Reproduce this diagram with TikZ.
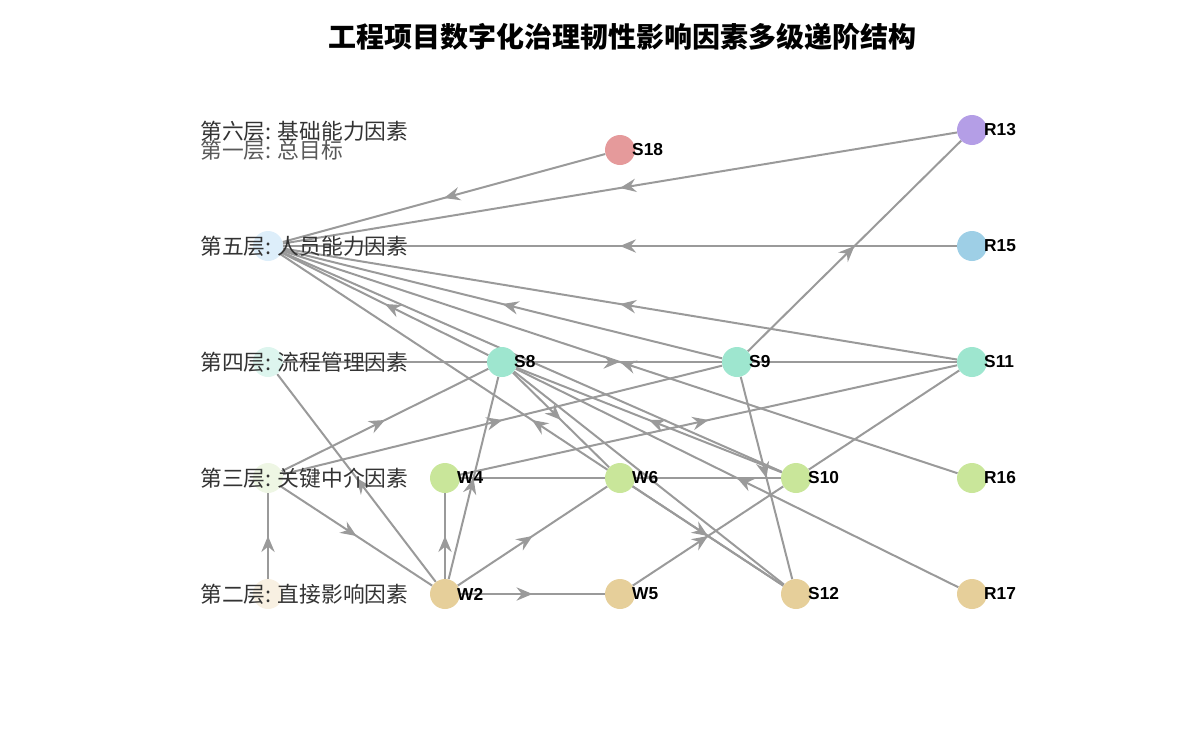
\documentclass[tikz,border=0pt]{standalone}
\usepackage{fontspec}
\setmainfont{Liberation Sans}
\newfontfamily\cjk{Noto Sans CJK SC}
\usetikzlibrary{decorations.markings,arrows.meta}
\definecolor{edgec}{HTML}{9A9A9A}
\definecolor{cL5}{HTML}{DDEEFA}
\definecolor{cL4}{HTML}{DDF5EE}
\definecolor{cL3}{HTML}{EEF6E4}
\definecolor{cL2}{HTML}{F8F0E2}
\definecolor{cred}{HTML}{E59A9B}
\definecolor{cpur}{HTML}{B49EE6}
\definecolor{cblu}{HTML}{9ECFE6}
\definecolor{cteal}{HTML}{9EE6CF}
\definecolor{cgrn}{HTML}{C9E69A}
\definecolor{ctan}{HTML}{E6CF9A}
\tikzset{
  nd/.style={circle,minimum size=22.5pt,inner sep=0pt},
  ed/.style={draw=edgec,line width=1.5pt,postaction={decorate},
    decoration={markings,mark=at position 0.5 with {\arrow{Stealth[length=12pt,width=10pt,inset=4pt]}}}},
  pl/.style={draw=edgec,line width=1.5pt},
  lab/.style={font=\bfseries\fontsize{13}{13}\selectfont,anchor=west,inner sep=0pt},
  lay/.style={font=\cjk\fontsize{16.3}{16.3}\selectfont,anchor=west,inner sep=0pt,text=black!80},
}
\begin{document}
\begin{tikzpicture}[x=0.75pt,y=-0.75pt]
\useasboundingbox (0,0) rectangle (1200,750);
\node[nd] (L5) at (268,246) {};
\node[nd] (L4) at (268,362) {};
\node[nd] (L3) at (268,478) {};
\node[nd] (L2) at (268,594) {};
\node[nd] (S18) at (620,150) {};
\node[nd] (R13) at (972,130) {};
\node[nd] (R15) at (972,246) {};
\node[nd] (S8) at (502,362) {};
\node[nd] (S9) at (737,362) {};
\node[nd] (S11) at (972,362) {};
\node[nd] (W4) at (445,478) {};
\node[nd] (W6) at (620,478) {};
\node[nd] (S10) at (796,478) {};
\node[nd] (R16) at (972,478) {};
\node[nd] (W2) at (445,594) {};
\node[nd] (W5) at (620,594) {};
\node[nd] (S12) at (796,594) {};
\node[nd] (R17) at (972,594) {};
% edges
\draw[ed] (S18) -- (L5);
\draw[ed] (R13) -- (L5);
\draw[ed] (R15) -- (L5);
\draw[ed] (S11) -- (L5);
\draw[ed] (S9) -- (L5);
\draw[ed] (R16) -- (L5);
\draw[ed] (S8) -- (L5);
\draw[ed] (S12) -- (L5);
\draw[pl] (L5) -- (S10);
\draw[pl] (L4) -- (S11);
\draw[ed] (S8) -- (S9);
\draw[ed] (S10) -- (S8);
\draw[ed] (R17) -- (S8);
\draw[ed] (S8) -- (W6);
\draw[pl] (S8) -- (S12);
\draw[ed] (S9) -- (S12);
\draw[ed] (S9) -- (R13);
\draw[ed] (L3) -- (S8);
\draw[ed] (L3) -- (S9);
\draw[ed] (W4) -- (S11);
\draw[pl] (S11) -- (S10);
\draw[ed] (W2) -- (L4);
\draw[ed] (L3) -- (W2);
\draw[ed] (L2) -- (L3);
\draw[ed] (W2) -- (W4);
\draw[ed] (W2) -- (S8);
\draw[ed] (W2) -- (W6);
\draw[ed] (W2) -- (W5);
\draw[ed] (W5) -- (S10);
\draw[pl] (W4) -- (S10);
\draw[ed] (W6) -- (S12);
% fill nodes on top
\foreach \n/\c in {L5/cL5,L4/cL4,L3/cL3,L2/cL2,S18/cred,R13/cpur,R15/cblu,S8/cteal,S9/cteal,S11/cteal,W4/cgrn,W6/cgrn,S10/cgrn,R16/cgrn,W2/ctan,W5/ctan,S12/ctan,R17/ctan}
  \fill[\c] (\n) circle (15);
\foreach \n in {S18,R13,R15,S8,S9,S11,W4,W6,S10,R16,W2,W5,S12,R17}
  \node[lab] at ([xshift=-2.5pt]\n.east) {\n};
% layer labels
\node[lay] (t6) at (200,131) {第六层: 基础能力因素};
\node[lay,text=black!65] (t1) at (200,150) {第一层: 总目标};
\node[lay] (t5) at (200,246) {第五层: 人员能力因素};
\node[lay] (t4) at (200,362) {第四层: 流程管理因素};
\node[lay] (t3) at (200,478) {第三层: 关键中介因素};
\node[lay] (t2) at (200,594) {第二层: 直接影响因素};
\node[font=\cjk\bfseries\fontsize{21}{21}\selectfont] (title) at (622,37) {工程项目数字化治理韧性影响因素多级递阶结构};
\end{tikzpicture}
\end{document}
